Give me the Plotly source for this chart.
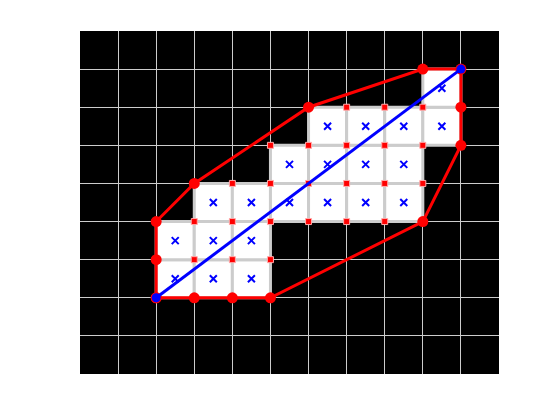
import plotly.graph_objects as go

cells_x = [2,3,4, 2,3,4, 3,4,5,6,7,8, 5,6,7,8, 6,7,8,9, 9]
cells_y = [2,2,2, 3,3,3, 4,4,4,4,4,4, 5,5,5,5, 6,6,6,6, 7]
hull_x = [2,3,4,5,9,10,10,10,9,6,3,2,2,2]
hull_y = [2,2,2,2,4,6,7,8,8,7,5,4,3,2]
inner_x = [7,8,9, 5,6,7,8,9, 4,5,6,7,8,9, 3,4,5,6,7,8, 3,4,5]
inner_y = [7,7,7, 6,6,6,6,6, 5,5,5,5,5,5, 4,4,4,4,4,4, 3,3,3]
line_x = [2,10]
line_y = [2,8]

fig = go.Figure()
for cx, cy in zip(cells_x, cells_y):
    fig.add_shape(type="rect", x0=cx, x1=cx+1, y0=cy, y1=cy+1,
                  fillcolor="white", line=dict(color="#cccccc", width=3), layer="below")
fig.add_trace(go.Scatter(x=[c+0.5 for c in cells_x], y=[c+0.5 for c in cells_y], mode="markers",
                         marker=dict(symbol="x-thin", size=7, line=dict(color="blue", width=2))))
fig.add_trace(go.Scatter(x=inner_x, y=inner_y, mode="markers",
                         marker=dict(symbol="square", size=6, color="red", line=dict(color="#ffaaaa", width=1))))
fig.add_trace(go.Scatter(x=hull_x, y=hull_y, mode="lines+markers",
                         line=dict(color="red", width=3), marker=dict(size=11, color="red")))
fig.add_trace(go.Scatter(x=line_x, y=line_y, mode="lines+markers",
                         line=dict(color="blue", width=3), marker=dict(size=9, color="blue")))
ax = dict(range=[0, 11], showticklabels=False, ticks="", dtick=1, showgrid=True,
          gridcolor="#cccccc", gridwidth=1, zeroline=False, showline=False)
fig.update_xaxes(**ax)
fig.update_yaxes(**dict(ax, range=[0, 9]))
fig.update_layout(width=560, height=420, margin=dict(l=72, r=69, t=23, b=54),
                  plot_bgcolor="black", paper_bgcolor="white", showlegend=False)
fig.write_html("out.html")
